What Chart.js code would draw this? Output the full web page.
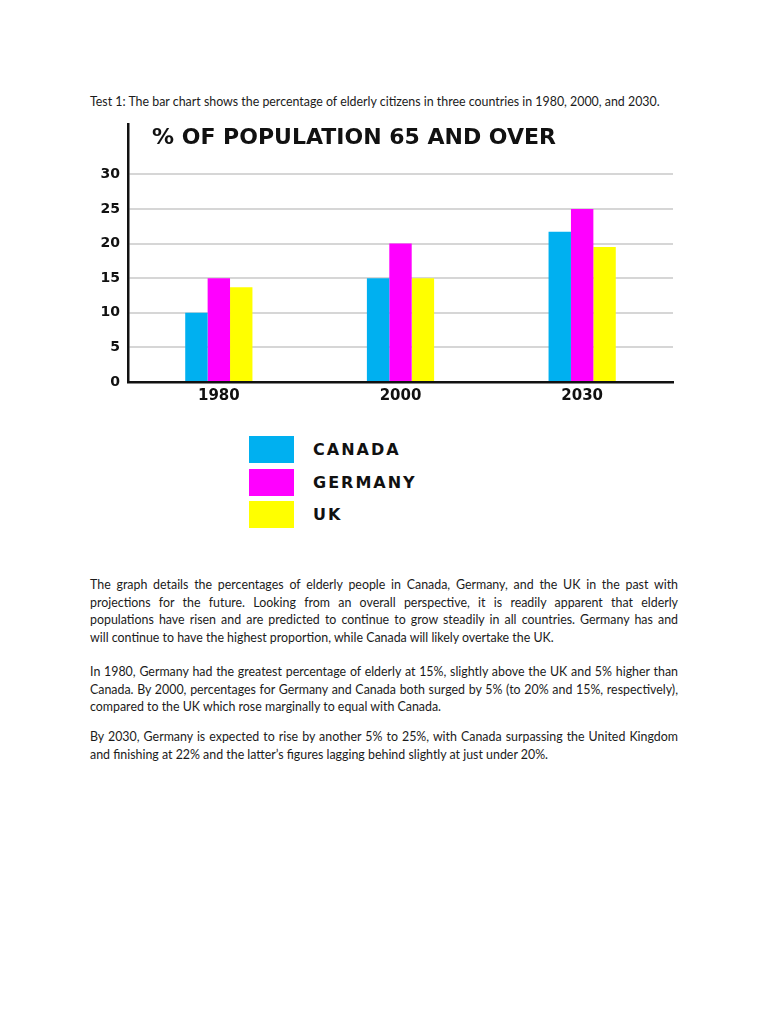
<!DOCTYPE html>
<html>
<head>
<meta charset="utf-8">
<script src="https://cdn.jsdelivr.net/npm/chart.js@4"></script>
<style>
  body { margin: 0; background: #fff; width: 768px; height: 1024px; position: relative; font-family: Lato, "Open Sans", sans-serif; color: #1b1b1b; }
  .txt { position: absolute; left: 90px; width: 588px; font-size: 12.4px; line-height: 17.6px; }
  .txt span { display: block; text-align: justify; text-align-last: justify; white-space: nowrap; }
  .txt span.last { text-align-last: left; }
  #box { position: absolute; left: 90px; top: 108px; width: 590px; height: 302px; }
  #legend { position: absolute; left: 249px; top: 436px; }
  .row { display: flex; align-items: center; height: 27px; margin-bottom: 5.5px; }
  .sw { width: 45px; height: 27px; }
  .lab { margin-left: 19px; font: bold 16px "DejaVu Sans", sans-serif; letter-spacing: 2px; color: #111; }
</style>
</head>
<body>
<div class="txt" style="top:93px;"><span class="last">Test 1: The bar chart shows the percentage of elderly citizens in three countries in 1980, 2000, and 2030.</span></div>

<div id="box"><canvas id="myChart"></canvas></div>
<div id="legend"></div>

<div class="txt" style="top:576px;">
  <span>The graph details the percentages of elderly people in Canada, Germany, and the UK in the past with</span>
  <span>projections for the future. Looking from an overall perspective, it is readily apparent that elderly</span>
  <span>populations have risen and are predicted to continue to grow steadily in all countries. Germany has and</span>
  <span class="last">will continue to have the highest proportion, while Canada will likely overtake the UK.</span>
</div>
<div class="txt" style="top:663px;">
  <span>In 1980, Germany had the greatest percentage of elderly at 15%, slightly above the UK and 5% higher than</span>
  <span>Canada. By 2000, percentages for Germany and Canada both surged by 5% (to 20% and 15%, respectively),</span>
  <span class="last">compared to the UK which rose marginally to equal with Canada.</span>
</div>
<div class="txt" style="top:728px;">
  <span>By 2030, Germany is expected to rise by another 5% to 25%, with Canada surpassing the United Kingdom</span>
  <span class="last">and finishing at 22% and the latter’s figures lagging behind slightly at just under 20%.</span>
</div>

<script>
// data
var years = ['1980', '2000', '2030'];
var canada = [10, 15, 21.7];
var germany = [15, 20, 25];
var uk = [13.7, 15, 19.5];
var seriesNames = ['CANADA', 'GERMANY', 'UK'];
var yTicks = [0, 5, 10, 15, 20, 25, 30];
var chartTitle = '% OF POPULATION 65 AND OVER';

var colors = ['#00b0f0', '#ff00ff', '#ffff00'];

// title sits inside the plot, right of the y axis line
var insideTitle = {
    id: 'insideTitle',
    afterDraw: function (chart) {
        var ctx = chart.ctx, area = chart.chartArea;
        ctx.save();
        ctx.font = 'bold 22px "DejaVu Sans"';
        ctx.fillStyle = '#111';
        ctx.textBaseline = 'middle';
        ctx.fillText(chartTitle, area.left + 24, area.top + 14);
        ctx.restore();
    }
};

var ctx = document.getElementById('myChart').getContext('2d');
var myChart = new Chart(ctx, {
    type: 'bar',
    data: {
        labels: years,
        datasets: [{
            label: seriesNames[0],
            data: canada,
            backgroundColor: colors[0],
            borderWidth: 0
        },
        {
            label: seriesNames[1],
            data: germany,
            backgroundColor: colors[1],
            borderWidth: 0
        },
        {
            label: seriesNames[2],
            data: uk,
            backgroundColor: colors[2],
            borderWidth: 0
        }
        ]
    },
    options: {
        responsive: true,
        maintainAspectRatio: false,
        animation: false,
        layout: { padding: { top: 0, right: 7, left: 0, bottom: 0 } },
        datasets: {
            bar: { categoryPercentage: 0.37, barPercentage: 1.0 }
        },
        scales: {
            y: {
                min: 0,
                max: 37.2,
                afterFit: function (scale) { scale.width = 38; },
                afterBuildTicks: function (scale) {
                    scale.ticks = yTicks.map(function (v) { return { value: v }; });
                },
                grid: { color: '#d6d6d6', lineWidth: 2, drawTicks: false },
                border: { display: true, color: '#111', width: 2.5 },
                ticks: {
                    padding: 8,
                    color: '#111',
                    font: { family: 'DejaVu Sans', weight: 'bold', size: 14 }
                }
            },
            x: {
                afterFit: function (scale) { scale.height = 28; },
                grid: { display: false, drawTicks: false },
                border: { display: true, color: '#111', width: 2.5 },
                ticks: {
                    padding: 5,
                    color: '#111',
                    font: { family: 'DejaVu Sans', weight: 'bold', size: 15 }
                }
            }
        },
        plugins: {
            legend: { display: false },
            tooltip: { enabled: false },
            title: { display: false }
        }
    },
    plugins: [insideTitle]
});

// legend as html, built from the chart's own datasets
var legendBox = document.getElementById('legend');
myChart.data.datasets.forEach(function (ds) {
    var row = document.createElement('div');
    row.className = 'row';
    var sw = document.createElement('div');
    sw.className = 'sw';
    sw.style.background = ds.backgroundColor;
    var lab = document.createElement('div');
    lab.className = 'lab';
    lab.textContent = ds.label;
    row.appendChild(sw);
    row.appendChild(lab);
    legendBox.appendChild(row);
});
</script>
</body>
</html>
